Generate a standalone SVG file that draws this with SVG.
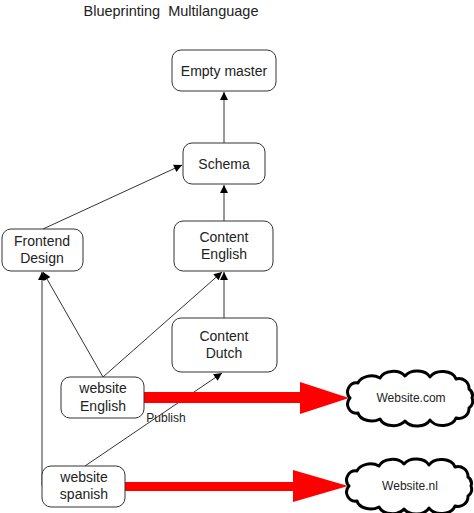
<svg xmlns="http://www.w3.org/2000/svg" width="474" height="513" viewBox="0 0 474 513">
<style>
text{font-family:"Liberation Sans",Arial,sans-serif;fill:#222;text-anchor:middle}
.node rect{fill:#fff;stroke:#333;stroke-width:1}
.lbl{font-size:14px}
.cl{font-size:12px}
.conn line{stroke:#333;stroke-width:1}
.cloud use{fill:#fff;stroke:#000;stroke-width:3;stroke-linejoin:round}
.big{fill:#f00;stroke:none}
</style>
<defs>
<marker id="ah" viewBox="0 0 10 10" refX="10" refY="5" markerWidth="9" markerHeight="8" markerUnits="userSpaceOnUse" orient="auto">
<path d="M0,0 L10,5 L0,10 z" fill="#000"/>
</marker>
<path id="cloudshape" d="M0,25 A9,9 0 0 1 8,10 A14,10 0 0 1 30,5 A14,10 0 0 1 55,3 A14,10 0 0 1 80,4 A14,10 0 0 1 106,6 A10,10 0 0 1 119,16 A8,8 0 0 1 122,25 A8,8 0 0 1 119,35 A10,10 0 0 1 106,45 A14,10 0 0 1 80,47 A14,10 0 0 1 55,48 A14,10 0 0 1 30,46 A14,10 0 0 1 8,40 A9,9 0 0 1 0,25 Z"/>
</defs>
<rect width="474" height="513" fill="#fff"/>
<text x="171" y="16" font-size="14.5" xml:space="preserve">Blueprinting  Multilanguage</text>

<g id="connectors" class="conn">
<line x1="224" y1="143" x2="224" y2="92" marker-end="url(#ah)"/>
<line x1="224" y1="221" x2="224" y2="185" marker-end="url(#ah)"/>
<line x1="43" y1="229" x2="182" y2="165" marker-end="url(#ah)"/>
<line x1="103" y1="377" x2="43" y2="272" marker-end="url(#ah)"/>
<line x1="103" y1="377" x2="222" y2="272" marker-end="url(#ah)"/>
<line x1="224" y1="318" x2="224" y2="272" marker-end="url(#ah)"/>
<line x1="85" y1="466" x2="222" y2="373" marker-end="url(#ah)"/>
<line x1="42" y1="486" x2="42" y2="272" marker-end="url(#ah)"/>
<text x="166" y="422" font-size="12">Publish</text>
<path class="big" d="M144,392 L300,392 L300,382 L349,398 L300,414 L300,403 L144,403 Z"/>
<path class="big" d="M125,482 L293,482 L293,470 L348,486 L293,502 L293,491 L125,491 Z"/>
</g>

<g id="empty-master" class="node"><rect x="172" y="50" width="104" height="41" rx="9"/><text class="lbl" x="224" y="76">Empty master</text></g>
<g id="schema" class="node"><rect x="183" y="143" width="82" height="41" rx="9"/><text class="lbl" x="224" y="169">Schema</text></g>
<g id="frontend-design" class="node"><rect x="2" y="229" width="81" height="42" rx="9"/><text class="lbl" x="42" y="246">Frontend</text><text class="lbl" x="42" y="263">Design</text></g>
<g id="content-english" class="node"><rect x="174" y="221" width="99" height="50" rx="9"/><text class="lbl" x="224" y="242">Content</text><text class="lbl" x="224" y="259">English</text></g>
<g id="content-dutch" class="node"><rect x="172" y="318" width="105" height="54" rx="9"/><text class="lbl" x="224" y="341">Content</text><text class="lbl" x="224" y="358">Dutch</text></g>
<g id="website-english" class="node"><rect x="61" y="377" width="83" height="41" rx="9"/><text class="lbl" x="103" y="393">website</text><text class="lbl" x="103" y="411">English</text></g>
<g id="website-spanish" class="node"><rect x="42" y="466" width="83" height="41" rx="9"/><text class="lbl" x="84" y="482">website</text><text class="lbl" x="84" y="499">spanish</text></g>

<g id="website-com" class="cloud"><use href="#cloudshape" x="350" y="373"/><text class="cl" x="411" y="402">Website.com</text></g>
<g id="website-nl" class="cloud"><use href="#cloudshape" x="349" y="461"/><text class="cl" x="410" y="490">Website.nl</text></g>
</svg>
